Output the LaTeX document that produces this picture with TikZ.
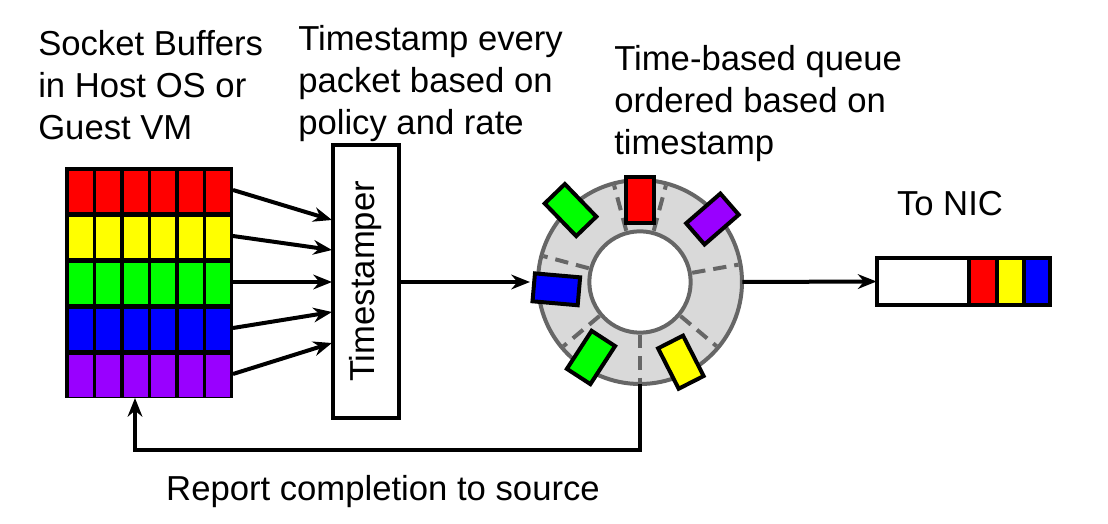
\documentclass[tikz,border=0pt]{standalone}
\usepackage{fontspec}
\setmainfont{Liberation Sans}
\usetikzlibrary{arrows.meta,calc}
\definecolor{cR}{RGB}{255,0,0}\definecolor{cY}{RGB}{255,255,0}\definecolor{cG}{RGB}{0,255,0}
\definecolor{cB}{RGB}{0,0,255}\definecolor{cP}{RGB}{153,0,255}\definecolor{ringgray}{RGB}{217,217,217}
\newcommand{\rp}[2]{($(rc)+({cos(#1)*#2},{-sin(#1)*#2})$)}
\begin{document}
\begin{tikzpicture}[x=0.75pt,y=-0.75pt,
  lbl/.style={font=\fontsize{26}{31.5}\selectfont,align=left,inner sep=0pt},
  arr/.style={line width=3pt,-{Stealth[length=14pt,width=11pt]}},
  pkt/.style={draw=black,line width=3pt,minimum width=21pt,minimum height=34pt,inner sep=0pt}]
\useasboundingbox (0,0) rectangle (1108,524);
% grid
\fill[black] (65,167) rectangle (233,398);
\foreach \c [count=\r from 0] in {cR,cY,cG,cB,cP}{
  \foreach \k in {0,...,5}{
    \fill[\c] ({69+\k*27.4},{171+\r*46}) rectangle ({69+\k*27.4+24},{171+\r*46+41.5});
  }}
\node[minimum width=126pt,minimum height=173pt,inner sep=0pt] (grid) at (149,282.5) {};
\foreach \r in {0,...,4}{\coordinate (g\r) at (233,{190+\r*46});}
% timestamper
\node[draw,line width=3pt,minimum width=49pt,minimum height=204pt,inner sep=0pt] (ts) at (366,281.5) {};
\node[rotate=90,font=\fontsize{26}{30}\selectfont] at (366,281.5) {Timestamper};
\foreach \r/\y in {0/220,1/250,2/282,3/312,4/343}{
  \coordinate (t\r) at (332,\y);
  \draw[arr] (g\r) -- (t\r);}
% ring
\coordinate (rc) at (640,282);
\fill[ringgray,even odd rule] (rc) circle (76.5pt) (rc) circle (38pt);
\draw[gray!80!black,line width=3pt] (rc) circle (76.5pt) (rc) circle (38pt);
\foreach \a in {105,75,165,10,220,270,320}{
  \draw[gray!80!black,line width=3pt,dash pattern=on 10pt off 6pt] \rp{\a}{53} -- \rp{\a}{100};}
\node[pkt,fill=cR] at \rp{90}{82} {};
\node[pkt,fill=cG,rotate=44] at \rp{134}{100} {};
\node[pkt,fill=cP,rotate=-49] at \rp{41}{96} {};
\node[pkt,fill=cB,rotate=-95] at \rp{185}{84} {};
\node[pkt,fill=cG,rotate=-33] at \rp{237}{90} {};
\node[pkt,fill=cY,rotate=27] at \rp{297}{90} {};
\node[minimum size=153pt,circle,inner sep=0pt] (ring) at (rc) {};
\coordinate (rin) at (530,282);
\draw[arr] (ts.east |- rc) -- (rin);
% NIC
\node[minimum width=130pt,minimum height=35pt,inner sep=0pt] (nic) at (963.5,281.5) {};
\fill[cR] (971,260) rectangle (996,303);
\fill[cY] (998,260) rectangle (1023,303);
\fill[cB] (1025,260) rectangle (1048,303);
\draw[line width=3pt] (969,258) -- (969,305) (997,258) -- (997,305) (1024,258) -- (1024,305);
\draw[line width=3pt] (877,258) rectangle (1050,305);
\draw[arr] (ring.east) -- (nic.west);
% feedback
\draw[arr] (ring.south) -- (640,450) -- (135,450) -- (135,398);
% labels
\node[lbl,anchor=north west] at (38,30) {Socket Buffers\\in Host OS or\\Guest VM};
\node[lbl,anchor=north west] at (298,25) {Timestamp every\\packet based on\\policy and rate};
\node[lbl,anchor=north west] at (614,45) {Time-based queue\\ordered based on\\timestamp};
\node[lbl] at (950,204) {To NIC};
\node[lbl] at (383,492) {Report completion to source};
\end{tikzpicture}
\end{document}
